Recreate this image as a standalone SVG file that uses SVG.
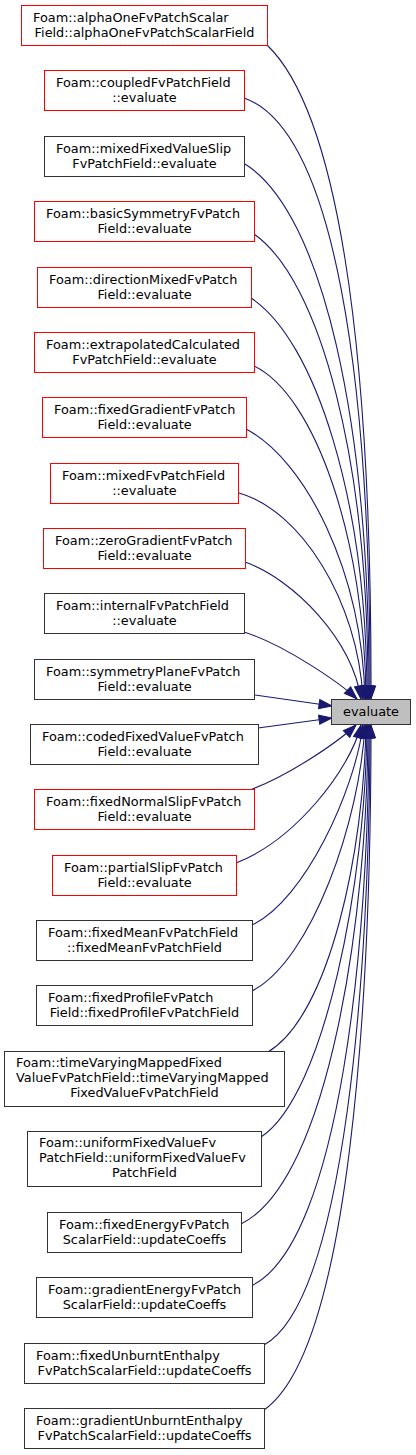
<svg xmlns="http://www.w3.org/2000/svg" width="416" height="1455" viewBox="0 0 416 1455">
<style>
.nr{fill:#ffffff;stroke:#ff0000;stroke-width:1}
.nb{fill:#ffffff;stroke:#333333;stroke-width:1}
.nf{fill:#bfbfbf;stroke:#333333;stroke-width:1}
text{font-family:"DejaVu Sans","Liberation Sans",sans-serif;font-size:12.85px;fill:#000000}
.s{text-anchor:start}
.m{text-anchor:middle}
.e path{fill:none;stroke:#191970;stroke-width:1.1;marker-end:url(#ah)}
</style>
<defs>
<marker id="ah" markerUnits="userSpaceOnUse" viewBox="-14 -6 15 12" markerWidth="15" markerHeight="12" refX="0" refY="0" orient="auto">
<path d="M0,0 L-13,-4.6 L-13,4.6 Z" fill="#191970" stroke="#191970" stroke-width="1"/>
</marker>
</defs>
<rect x="0" y="0" width="416" height="1455" fill="#ffffff"/>
<g id="connectors" class="e">
<path d="M267,45 C335,110 372,330 371,699"/>
<path d="M244,98 C335,130 371,380 370,699"/>
<path d="M245,164 C322,212 370,420 369,699"/>
<path d="M254,234 C320,280 369,460 368,699"/>
<path d="M251,298 C315,340 367,500 367,699"/>
<path d="M254,366 C315,395 365,540 366,699"/>
<path d="M246,429 C305,460 362,570 365,699"/>
<path d="M239,493 C300,510 358,600 363,699"/>
<path d="M245,562 C295,580 352,640 361,699"/>
<path d="M244,632 C285,645 340,683 357,699"/>
<path d="M255,695 L332,706"/>
<path d="M258,728 L332,718"/>
<path d="M250,790 C290,775 338,742 356,725"/>
<path d="M236,863 C295,840 350,770 361,725"/>
<path d="M252,925 C305,900 355,790 363,725"/>
<path d="M252,991 C312,960 360,820 365,725"/>
<path d="M268,1052 C330,1015 364,850 366,725"/>
<path d="M261,1137 C325,1095 366,880 367,725"/>
<path d="M241,1224 C330,1180 368,910 368,725"/>
<path d="M253,1285 C340,1240 369,940 369,725"/>
<path d="M264,1345 C345,1300 370,970 370,725"/>
<path d="M264,1410 C350,1350 371,1000 371,725"/>
</g>
<g id="evaluate">
<rect class="nf" x="331.5" y="699.5" width="79" height="25"/>
<text class="m" x="371" y="716">evaluate</text>
</g>
<g id="n1">
<rect class="nr" x="21.5" y="5.5" width="246" height="40"/>
<text class="s" x="33" y="21.5">Foam::alphaOneFvPatchScalar</text>
<text class="m" x="144.5" y="36.5">Field::alphaOneFvPatchScalarField</text>
</g>
<g id="n2">
<rect class="nr" x="44.5" y="70.5" width="200" height="40"/>
<text class="s" x="56" y="86.5">Foam::coupledFvPatchField</text>
<text class="m" x="144.5" y="101.5">::evaluate</text>
</g>
<g id="n3">
<rect class="nb" x="44.5" y="136.5" width="200" height="40"/>
<text class="s" x="56" y="152.5">Foam::mixedFixedValueSlip</text>
<text class="m" x="144.5" y="167.5">FvPatchField::evaluate</text>
</g>
<g id="n4">
<rect class="nr" x="34.5" y="201.5" width="220" height="40"/>
<text class="s" x="46" y="217.5">Foam::basicSymmetryFvPatch</text>
<text class="m" x="144.5" y="232.5">Field::evaluate</text>
</g>
<g id="n5">
<rect class="nr" x="37.5" y="267.5" width="214" height="40"/>
<text class="s" x="49" y="283.5">Foam::directionMixedFvPatch</text>
<text class="m" x="144.5" y="298.5">Field::evaluate</text>
</g>
<g id="n6">
<rect class="nr" x="34.5" y="332.5" width="220" height="40"/>
<text class="s" x="46" y="348.5">Foam::extrapolatedCalculated</text>
<text class="m" x="144.5" y="363.5">FvPatchField::evaluate</text>
</g>
<g id="n7">
<rect class="nr" x="42.5" y="397.5" width="204" height="40"/>
<text class="s" x="54" y="413.5">Foam::fixedGradientFvPatch</text>
<text class="m" x="144.5" y="428.5">Field::evaluate</text>
</g>
<g id="n8">
<rect class="nr" x="50.5" y="463.5" width="188" height="40"/>
<text class="s" x="62" y="479.5">Foam::mixedFvPatchField</text>
<text class="m" x="144.5" y="494.5">::evaluate</text>
</g>
<g id="n9">
<rect class="nr" x="43.5" y="528.5" width="202" height="40"/>
<text class="s" x="55" y="544.5">Foam::zeroGradientFvPatch</text>
<text class="m" x="144.5" y="559.5">Field::evaluate</text>
</g>
<g id="n10">
<rect class="nb" x="44.5" y="593.5" width="200" height="40"/>
<text class="s" x="56" y="609.5">Foam::internalFvPatchField</text>
<text class="m" x="144.5" y="624.5">::evaluate</text>
</g>
<g id="n11">
<rect class="nb" x="34.5" y="659.5" width="220" height="40"/>
<text class="s" x="46" y="675.5">Foam::symmetryPlaneFvPatch</text>
<text class="m" x="144.5" y="690.5">Field::evaluate</text>
</g>
<g id="n12">
<rect class="nb" x="30.5" y="724.5" width="228" height="40"/>
<text class="s" x="42" y="740.5">Foam::codedFixedValueFvPatch</text>
<text class="m" x="144.5" y="755.5">Field::evaluate</text>
</g>
<g id="n13">
<rect class="nr" x="34.5" y="789.5" width="220" height="40"/>
<text class="s" x="46" y="805.5">Foam::fixedNormalSlipFvPatch</text>
<text class="m" x="144.5" y="820.5">Field::evaluate</text>
</g>
<g id="n14">
<rect class="nr" x="52.5" y="855.5" width="184" height="40"/>
<text class="s" x="64" y="871.5">Foam::partialSlipFvPatch</text>
<text class="m" x="144.5" y="886.5">Field::evaluate</text>
</g>
<g id="n15">
<rect class="nb" x="36.5" y="920.5" width="216" height="40"/>
<text class="s" x="48" y="936.5">Foam::fixedMeanFvPatchField</text>
<text class="m" x="144.5" y="951.5">::fixedMeanFvPatchField</text>
</g>
<g id="n16">
<rect class="nb" x="36.5" y="985.5" width="216" height="40"/>
<text class="s" x="48" y="1001.5">Foam::fixedProfileFvPatch</text>
<text class="m" x="144.5" y="1016.5">Field::fixedProfileFvPatchField</text>
</g>
<g id="n17">
<rect class="nb" x="4.5" y="1051.5" width="280" height="55"/>
<text class="s" x="16" y="1067">Foam::timeVaryingMappedFixed</text>
<text class="s" x="16" y="1082">ValueFvPatchField::timeVaryingMapped</text>
<text class="m" x="144.5" y="1096.5">FixedValueFvPatchField</text>
</g>
<g id="n18">
<rect class="nb" x="27.5" y="1131.5" width="234" height="55"/>
<text class="s" x="39" y="1147">Foam::uniformFixedValueFv</text>
<text class="s" x="39" y="1162">PatchField::uniformFixedValueFv</text>
<text class="m" x="144.5" y="1176.5">PatchField</text>
</g>
<g id="n19">
<rect class="nb" x="47.5" y="1212.5" width="194" height="40"/>
<text class="s" x="59" y="1228.5">Foam::fixedEnergyFvPatch</text>
<text class="m" x="144.5" y="1243.5">ScalarField::updateCoeffs</text>
</g>
<g id="n20">
<rect class="nb" x="36.5" y="1277.5" width="216" height="40"/>
<text class="s" x="48" y="1293.5">Foam::gradientEnergyFvPatch</text>
<text class="m" x="144.5" y="1308.5">ScalarField::updateCoeffs</text>
</g>
<g id="n21">
<rect class="nb" x="24.5" y="1343.5" width="240" height="40"/>
<text class="s" x="36" y="1359.5">Foam::fixedUnburntEnthalpy</text>
<text class="m" x="144.5" y="1374.5">FvPatchScalarField::updateCoeffs</text>
</g>
<g id="n22">
<rect class="nb" x="24.5" y="1408.5" width="240" height="40"/>
<text class="s" x="36" y="1424.5">Foam::gradientUnburntEnthalpy</text>
<text class="m" x="144.5" y="1439.5">FvPatchScalarField::updateCoeffs</text>
</g>
</svg>
